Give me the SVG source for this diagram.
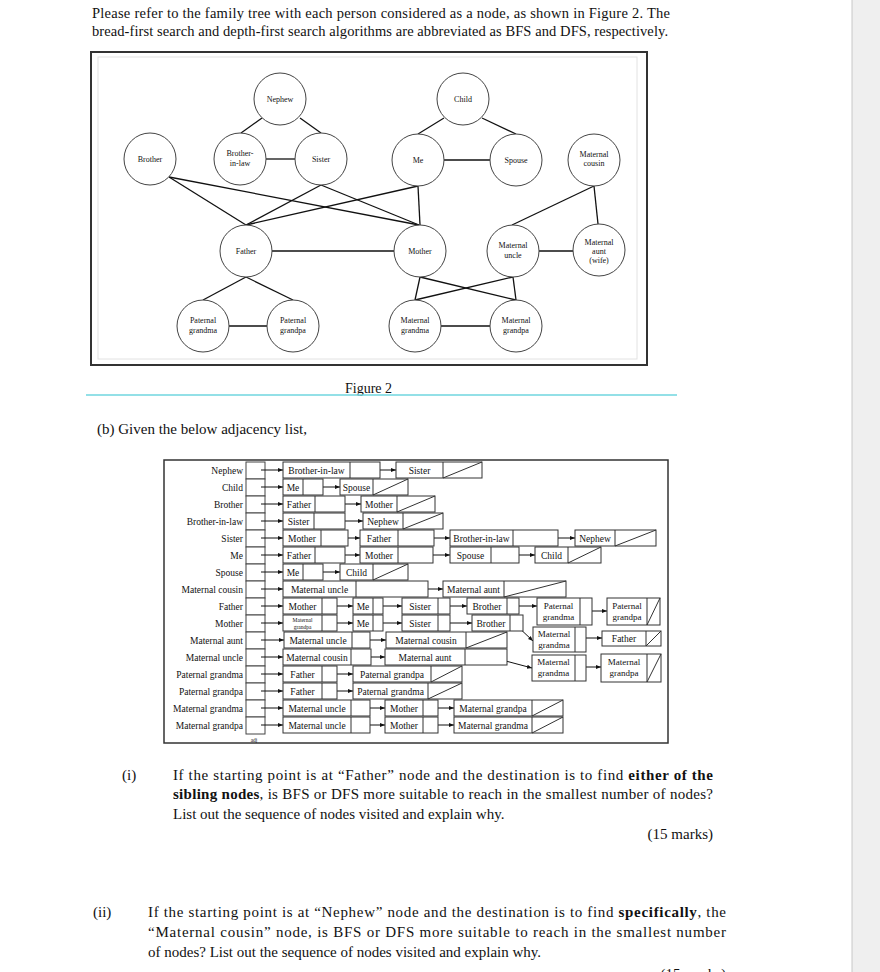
<svg xmlns="http://www.w3.org/2000/svg" width="880" height="972" viewBox="0 0 880 972">
<defs>
<marker id="ah" markerUnits="userSpaceOnUse" markerWidth="6" markerHeight="5" refX="5" refY="2" orient="auto"><path d="M0,0 L5,2 L0,4 z" fill="#111"/></marker>
<style>
text{font-family:"Liberation Serif","Times New Roman",serif;fill:#111}
.p{font-size:14.5px}
.q{font-size:15px}
.nd circle{fill:#fff;stroke:#444;stroke-width:1}
.nd text{font-size:8px;text-anchor:middle}
.ed line{stroke:#111;stroke-width:1.3}
.bx rect{fill:#fff;stroke:#333;stroke-width:1}
.bx line{stroke:#333;stroke-width:1}
.bt{font-size:9.5px;text-anchor:middle}
.bs{font-size:9px;text-anchor:middle}
.lb{font-size:9.5px;text-anchor:end}
.ar line{stroke:#111;stroke-width:1;marker-end:url(#ah)}
.cell{fill:#fff;stroke:#444;stroke-width:1}
</style>
</defs>
<rect width="880" height="972" fill="#fff"/>
<rect x="852" y="0" width="28" height="972" fill="#efefef"/>
<line x1="852" y1="0" x2="852" y2="972" stroke="#c8c8c8" stroke-width="1"/>

<text class="p" x="92" y="17.5" textLength="578" lengthAdjust="spacing">Please refer to the family tree with each person considered as a node, as shown in Figure 2. The</text>
<text class="p" x="92" y="35.5" textLength="576" lengthAdjust="spacing">bread-first search and depth-first search algorithms are abbreviated as BFS and DFS, respectively.</text>

<!-- Figure 2 frame -->
<rect x="91" y="52" width="556" height="313" fill="#fff" stroke="#333" stroke-width="2"/>
<rect x="98" y="57" width="539" height="302" fill="none" stroke="#e2e2e2" stroke-width="1"/>

<g id="edges" class="ed">
<line x1="262" y1="118" x2="241" y2="133"/>
<line x1="300" y1="118" x2="321" y2="133"/>
<line x1="266" y1="159" x2="295" y2="159"/>
<line x1="444" y1="118" x2="418" y2="134"/>
<line x1="482" y1="118" x2="516" y2="134"/>
<line x1="444" y1="160" x2="490" y2="160"/>
<line x1="169" y1="177" x2="246" y2="225"/>
<line x1="169" y1="177" x2="419" y2="225"/>
<line x1="321" y1="185" x2="246" y2="225"/>
<line x1="321" y1="185" x2="419" y2="225"/>
<line x1="418" y1="186" x2="246" y2="225"/>
<line x1="418" y1="186" x2="420" y2="225"/>
<line x1="594" y1="186" x2="512" y2="225"/>
<line x1="594" y1="186" x2="598" y2="224"/>
<line x1="272" y1="251" x2="394" y2="251"/>
<line x1="539" y1="251" x2="573" y2="251"/>
<line x1="246" y1="277" x2="203" y2="300"/>
<line x1="246" y1="277" x2="293" y2="300"/>
<line x1="229" y1="326" x2="267" y2="326"/>
<line x1="420" y1="277" x2="415" y2="300"/>
<line x1="420" y1="277" x2="516" y2="300"/>
<line x1="513" y1="277" x2="415" y2="300"/>
<line x1="513" y1="277" x2="516" y2="300"/>
<line x1="441" y1="326" x2="490" y2="326"/>
</g>

<g id="n-nephew" class="nd"><circle cx="280" cy="99" r="26"/><text x="280" y="102">Nephew</text></g>
<g id="n-child" class="nd"><circle cx="463" cy="99" r="26"/><text x="463" y="102">Child</text></g>
<g id="n-brother" class="nd"><circle cx="150" cy="159" r="26"/><text x="150" y="162">Brother</text></g>
<g id="n-bil" class="nd"><circle cx="240" cy="159" r="26"/><text x="240" y="156">Brother-</text><text x="240" y="166">in-law</text></g>
<g id="n-sister" class="nd"><circle cx="321" cy="159" r="26"/><text x="321" y="162">Sister</text></g>
<g id="n-me" class="nd"><circle cx="418" cy="160" r="26"/><text x="418" y="163">Me</text></g>
<g id="n-spouse" class="nd"><circle cx="516" cy="160" r="26"/><text x="516" y="163">Spouse</text></g>
<g id="n-matcousin" class="nd"><circle cx="594" cy="160" r="26"/><text x="594" y="157">Maternal</text><text x="594" y="166">cousin</text></g>
<g id="n-father" class="nd"><circle cx="246" cy="251" r="26"/><text x="246" y="254">Father</text></g>
<g id="n-mother" class="nd"><circle cx="420" cy="251" r="26"/><text x="420" y="254">Mother</text></g>
<g id="n-matuncle" class="nd"><circle cx="513" cy="251" r="26"/><text x="513" y="248">Maternal</text><text x="513" y="258">uncle</text></g>
<g id="n-mataunt" class="nd"><circle cx="599" cy="250" r="26"/><text x="599" y="245">Maternal</text><text x="599" y="254">aunt</text><text x="599" y="263">(wife)</text></g>
<g id="n-patgrandma" class="nd"><circle cx="203" cy="326" r="26"/><text x="203" y="323">Paternal</text><text x="203" y="333">grandma</text></g>
<g id="n-patgrandpa" class="nd"><circle cx="293" cy="326" r="26"/><text x="293" y="323">Paternal</text><text x="293" y="333">grandpa</text></g>
<g id="n-matgrandma" class="nd"><circle cx="415" cy="326" r="26"/><text x="415" y="323">Maternal</text><text x="415" y="333">grandma</text></g>
<g id="n-matgrandpa" class="nd"><circle cx="516" cy="326" r="26"/><text x="516" y="323">Maternal</text><text x="516" y="333">grandpa</text></g>

<text x="345" y="393" style="font-size:14px">Figure 2</text>
<line x1="86" y1="395" x2="677" y2="395" stroke="#6fd6df" stroke-width="1.5"/>

<text class="q" x="97" y="434">(b)  Given the below adjacency list,</text>

<!-- adjacency list -->
<rect x="164" y="460" width="504" height="283" fill="#fff" stroke="#333" stroke-width="1.5"/>
<g id="adj">
<rect class="cell" x="246" y="462" width="19" height="17"/>
<rect class="cell" x="246" y="479" width="19" height="17"/>
<rect class="cell" x="246" y="496" width="19" height="17"/>
<rect class="cell" x="246" y="513" width="19" height="17"/>
<rect class="cell" x="246" y="530" width="19" height="17"/>
<rect class="cell" x="246" y="547" width="19" height="17"/>
<rect class="cell" x="246" y="564" width="19" height="17"/>
<rect class="cell" x="246" y="581" width="19" height="17"/>
<rect class="cell" x="246" y="598" width="19" height="17"/>
<rect class="cell" x="246" y="615" width="19" height="17"/>
<rect class="cell" x="246" y="632" width="19" height="17"/>
<rect class="cell" x="246" y="649" width="19" height="17"/>
<rect class="cell" x="246" y="666" width="19" height="17"/>
<rect class="cell" x="246" y="683" width="19" height="17"/>
<rect class="cell" x="246" y="700" width="19" height="17"/>
<rect class="cell" x="246" y="717" width="19" height="17"/>
<text x="254" y="742" style="font-size:5.5px;text-anchor:middle">adj</text>
<text class="lb" x="243" y="474">Nephew</text>
<text class="lb" x="243" y="491">Child</text>
<text class="lb" x="243" y="508">Brother</text>
<text class="lb" x="243" y="525">Brother-in-law</text>
<text class="lb" x="243" y="542">Sister</text>
<text class="lb" x="243" y="559">Me</text>
<text class="lb" x="243" y="576">Spouse</text>
<text class="lb" x="243" y="593">Maternal cousin</text>
<text class="lb" x="243" y="610">Father</text>
<text class="lb" x="243" y="627">Mother</text>
<text class="lb" x="243" y="644">Maternal aunt</text>
<text class="lb" x="243" y="661">Maternal uncle</text>
<text class="lb" x="243" y="678">Paternal grandma</text>
<text class="lb" x="243" y="695">Paternal grandpa</text>
<text class="lb" x="243" y="712">Maternal grandma</text>
<text class="lb" x="243" y="729">Maternal grandpa</text>
</g>

<g id="list-arrows" class="ar">
<line x1="261" y1="470" x2="283" y2="470"/>
<line x1="261" y1="487" x2="283" y2="487"/>
<line x1="261" y1="504" x2="283" y2="504"/>
<line x1="261" y1="521" x2="283" y2="521"/>
<line x1="261" y1="538" x2="283" y2="538"/>
<line x1="261" y1="555" x2="283" y2="555"/>
<line x1="261" y1="572" x2="283" y2="572"/>
<line x1="261" y1="589" x2="283" y2="589"/>
<line x1="261" y1="606" x2="283" y2="606"/>
<line x1="261" y1="623" x2="283" y2="623"/>
<line x1="261" y1="640" x2="284" y2="640"/>
<line x1="261" y1="657" x2="283" y2="657"/>
<line x1="261" y1="674" x2="283" y2="674"/>
<line x1="261" y1="691" x2="283" y2="691"/>
<line x1="261" y1="708" x2="283" y2="708"/>
<line x1="261" y1="725" x2="283" y2="725"/>
<!-- row 0 -->
<line x1="373" y1="470" x2="396" y2="470"/>
<!-- row 1 -->
<line x1="316" y1="487" x2="340" y2="487"/>
<!-- row 2 -->
<line x1="338" y1="504" x2="361" y2="504"/>
<!-- row 3 -->
<line x1="338" y1="521" x2="363" y2="521"/>
<!-- row 4 -->
<line x1="341" y1="538" x2="360" y2="538"/>
<line x1="427" y1="538" x2="450" y2="538"/>
<line x1="551" y1="538" x2="575" y2="538"/>
<!-- row 5 -->
<line x1="338" y1="555" x2="360" y2="555"/>
<line x1="426" y1="555" x2="450" y2="555"/>
<line x1="512" y1="555" x2="535" y2="555"/>
<!-- row 6 -->
<line x1="316" y1="572" x2="340" y2="572"/>
<!-- row 7 -->
<line x1="420" y1="589" x2="443" y2="589"/>
<!-- row 8 -->
<line x1="330" y1="606" x2="353" y2="606"/>
<line x1="378" y1="606" x2="402" y2="606"/>
<line x1="444" y1="606" x2="467" y2="606"/>
<line x1="514" y1="606" x2="537" y2="606"/>
<line x1="587" y1="611" x2="607" y2="611"/>
<!-- row 9 -->
<line x1="330" y1="623" x2="353" y2="623"/>
<line x1="378" y1="623" x2="402" y2="623"/>
<line x1="444" y1="623" x2="472" y2="623"/>
<line x1="515" y1="624" x2="533" y2="641"/>
<line x1="580" y1="638" x2="602" y2="638"/>
<!-- row 10 -->
<line x1="362" y1="640" x2="386" y2="640"/>
<!-- row 11 -->
<line x1="363" y1="657" x2="385" y2="657"/>
<line x1="502" y1="660" x2="532" y2="668"/>
<line x1="580" y1="667" x2="601" y2="667"/>
<!-- row 12-15 -->
<line x1="330" y1="674" x2="353" y2="674"/>
<line x1="330" y1="691" x2="353" y2="691"/>
<line x1="363" y1="708" x2="385" y2="708"/>
<line x1="433" y1="708" x2="454" y2="708"/>
<line x1="363" y1="725" x2="385" y2="725"/>
<line x1="433" y1="725" x2="454" y2="725"/>
</g>

<g id="list-nodes" class="bx">
<!-- row 0 -->
<g id="r0"><rect x="283" y="462" width="97" height="16"/><line x1="350" y1="462" x2="350" y2="478"/><text class="bt" x="316.5" y="473.5">Brother-in-law</text>
<rect x="396" y="462" width="86" height="16"/><line x1="443" y1="462" x2="443" y2="478"/><line x1="443" y1="478" x2="482" y2="462"/><text class="bt" x="419.5" y="473.5">Sister</text></g>
<!-- row 1 -->
<g id="r1"><rect x="283" y="479" width="40" height="16"/><line x1="303" y1="479" x2="303" y2="495"/><text class="bt" x="293" y="490.5">Me</text>
<rect x="340" y="479" width="68" height="16"/><line x1="373" y1="479" x2="373" y2="495"/><line x1="373" y1="495" x2="408" y2="479"/><text class="bt" x="356.5" y="490.5">Spouse</text></g>
<!-- row 2 -->
<g id="r2"><rect x="283" y="496" width="62" height="16"/><line x1="315" y1="496" x2="315" y2="512"/><text class="bt" x="299" y="507.5">Father</text>
<rect x="361" y="496" width="74" height="16"/><line x1="397" y1="496" x2="397" y2="512"/><line x1="397" y1="512" x2="435" y2="496"/><text class="bt" x="379" y="507.5">Mother</text></g>
<!-- row 3 -->
<g id="r3"><rect x="283" y="513" width="62" height="16"/><line x1="314" y1="513" x2="314" y2="529"/><text class="bt" x="298.5" y="524.5">Sister</text>
<rect x="363" y="513" width="80" height="16"/><line x1="403" y1="513" x2="403" y2="529"/><line x1="403" y1="529" x2="443" y2="513"/><text class="bt" x="383" y="524.5">Nephew</text></g>
<!-- row 4 -->
<g id="r4"><rect x="283" y="530" width="65" height="16"/><line x1="321" y1="530" x2="321" y2="546"/><text class="bt" x="302" y="541.5">Mother</text>
<rect x="360" y="530" width="74" height="16"/><line x1="398" y1="530" x2="398" y2="546"/><text class="bt" x="379" y="541.5">Father</text>
<rect x="450" y="530" width="108" height="16"/><line x1="513" y1="530" x2="513" y2="546"/><text class="bt" x="481.5" y="541.5">Brother-in-law</text>
<rect x="575" y="530" width="81" height="16"/><line x1="615" y1="530" x2="615" y2="546"/><line x1="615" y1="546" x2="656" y2="530"/><text class="bt" x="595" y="541.5">Nephew</text></g>
<!-- row 5 -->
<g id="r5"><rect x="283" y="547" width="62" height="16"/><line x1="315" y1="547" x2="315" y2="563"/><text class="bt" x="299" y="558.5">Father</text>
<rect x="360" y="547" width="73" height="16"/><line x1="398" y1="547" x2="398" y2="563"/><text class="bt" x="379" y="558.5">Mother</text>
<rect x="450" y="547" width="69" height="16"/><line x1="491" y1="547" x2="491" y2="563"/><text class="bt" x="470.5" y="558.5">Spouse</text>
<rect x="535" y="547" width="66" height="16"/><line x1="568" y1="547" x2="568" y2="563"/><line x1="568" y1="563" x2="601" y2="547"/><text class="bt" x="551.5" y="558.5">Child</text></g>
<!-- row 6 -->
<g id="r6"><rect x="283" y="564" width="40" height="16"/><line x1="303" y1="564" x2="303" y2="580"/><text class="bt" x="293" y="575.5">Me</text>
<rect x="340" y="564" width="68" height="16"/><line x1="373" y1="564" x2="373" y2="580"/><line x1="373" y1="580" x2="408" y2="564"/><text class="bt" x="356.5" y="575.5">Child</text></g>
<!-- row 7 -->
<g id="r7"><rect x="283" y="581" width="145" height="16"/><line x1="356" y1="581" x2="356" y2="597"/><text class="bt" x="319.5" y="592.5">Maternal uncle</text>
<rect x="443" y="581" width="123" height="16"/><line x1="504" y1="581" x2="504" y2="597"/><line x1="504" y1="597" x2="566" y2="581"/><text class="bt" x="473.5" y="592.5">Maternal aunt</text></g>
<!-- row 8 -->
<g id="r8"><rect x="283" y="598" width="54" height="16"/><line x1="322" y1="598" x2="322" y2="614"/><text class="bt" x="302.5" y="609.5">Mother</text>
<rect x="353" y="598" width="30" height="16"/><line x1="373" y1="598" x2="373" y2="614"/><text class="bt" x="363" y="609.5">Me</text>
<rect x="402" y="598" width="48" height="16"/><line x1="438" y1="598" x2="438" y2="614"/><text class="bt" x="420" y="609.5">Sister</text>
<rect x="467" y="598" width="52" height="16"/><line x1="507" y1="598" x2="507" y2="614"/><text class="bt" x="487" y="609.5">Brother</text>
<rect x="537" y="598" width="55" height="27"/><line x1="580" y1="598" x2="580" y2="625"/><text class="bs" x="558.5" y="609">Paternal</text><text class="bs" x="558.5" y="620">grandma</text>
<rect x="607" y="598" width="53" height="27"/><line x1="647" y1="598" x2="647" y2="625"/><line x1="647" y1="625" x2="660" y2="598"/><text class="bs" x="627" y="609">Paternal</text><text class="bs" x="627" y="620">grandpa</text></g>
<!-- row 9 -->
<g id="r9"><rect x="283" y="615" width="54" height="16"/><line x1="322" y1="615" x2="322" y2="631"/><text x="302.5" y="622" style="font-size:5.5px;text-anchor:middle">Maternal</text><text x="302.5" y="629" style="font-size:5.5px;text-anchor:middle">grandpa</text>
<rect x="353" y="615" width="30" height="16"/><line x1="373" y1="615" x2="373" y2="631"/><text class="bt" x="363" y="626.5">Me</text>
<rect x="402" y="615" width="48" height="16"/><line x1="438" y1="615" x2="438" y2="631"/><text class="bt" x="420" y="626.5">Sister</text>
<rect x="472" y="615" width="51" height="16"/><line x1="510" y1="615" x2="510" y2="631"/><text class="bt" x="491" y="626.5">Brother</text>
<rect x="533" y="627" width="53" height="25"/><line x1="575" y1="627" x2="575" y2="652"/><text class="bs" x="554" y="637">Maternal</text><text class="bs" x="554" y="648">grandma</text>
<rect x="602" y="631" width="59" height="15"/><line x1="646" y1="631" x2="646" y2="646"/><line x1="646" y1="646" x2="661" y2="631"/><text class="bt" x="624" y="642">Father</text></g>
<!-- row 10 -->
<g id="r10"><rect x="284" y="632" width="86" height="16"/><line x1="352" y1="632" x2="352" y2="648"/><text class="bt" x="318" y="643.5">Maternal uncle</text>
<rect x="386" y="632" width="121" height="16"/><line x1="466" y1="632" x2="466" y2="648"/><line x1="466" y1="648" x2="507" y2="632"/><text class="bt" x="426" y="643.5">Maternal cousin</text></g>
<!-- row 11 -->
<g id="r11"><rect x="283" y="649" width="88" height="16"/><line x1="351" y1="649" x2="351" y2="665"/><text class="bt" x="317" y="660.5">Maternal cousin</text>
<rect x="385" y="649" width="122" height="16"/><line x1="465" y1="649" x2="465" y2="665"/><text class="bt" x="425" y="660.5">Maternal aunt</text>
<rect x="532" y="655" width="54" height="26"/><line x1="575" y1="655" x2="575" y2="681"/><text class="bs" x="553.5" y="665">Maternal</text><text class="bs" x="553.5" y="676">grandma</text>
<rect x="601" y="654" width="60" height="28"/><line x1="647" y1="654" x2="647" y2="682"/><line x1="647" y1="682" x2="661" y2="654"/><text class="bs" x="624" y="665">Maternal</text><text class="bs" x="624" y="676">grandpa</text></g>
<!-- row 12 -->
<g id="r12"><rect x="283" y="666" width="54" height="16"/><line x1="322" y1="666" x2="322" y2="682"/><text class="bt" x="302.5" y="677.5">Father</text>
<rect x="353" y="666" width="109" height="16"/><line x1="431" y1="666" x2="431" y2="682"/><line x1="431" y1="682" x2="462" y2="666"/><text class="bt" x="392" y="677.5">Paternal grandpa</text></g>
<!-- row 13 -->
<g id="r13"><rect x="283" y="683" width="54" height="16"/><line x1="322" y1="683" x2="322" y2="699"/><text class="bt" x="302.5" y="694.5">Father</text>
<rect x="353" y="683" width="109" height="16"/><line x1="428" y1="683" x2="428" y2="699"/><line x1="428" y1="699" x2="462" y2="683"/><text class="bt" x="390.5" y="694.5">Paternal grandma</text></g>
<!-- row 14 -->
<g id="r14"><rect x="283" y="700" width="87" height="16"/><line x1="351" y1="700" x2="351" y2="716"/><text class="bt" x="317" y="711.5">Maternal uncle</text>
<rect x="385" y="700" width="53" height="16"/><line x1="423" y1="700" x2="423" y2="716"/><text class="bt" x="404" y="711.5">Mother</text>
<rect x="454" y="700" width="109" height="16"/><line x1="532" y1="700" x2="532" y2="716"/><line x1="532" y1="716" x2="563" y2="700"/><text class="bt" x="493" y="711.5">Maternal grandpa</text></g>
<!-- row 15 -->
<g id="r15"><rect x="283" y="717" width="87" height="16"/><line x1="351" y1="717" x2="351" y2="733"/><text class="bt" x="317" y="728.5">Maternal uncle</text>
<rect x="385" y="717" width="53" height="16"/><line x1="423" y1="717" x2="423" y2="733"/><text class="bt" x="404" y="728.5">Mother</text>
<rect x="454" y="717" width="109" height="16"/><line x1="532" y1="717" x2="532" y2="733"/><line x1="532" y1="733" x2="563" y2="717"/><text class="bt" x="493" y="728.5">Maternal grandma</text></g>
</g>

<!-- questions -->
<text class="q" x="122" y="780">(i)</text>
<text class="q" x="173" y="780" textLength="540" lengthAdjust="spacing">If the starting point is at “Father” node and the destination is to find <tspan font-weight="bold">either of the</tspan></text>
<text class="q" x="173" y="799" textLength="540" lengthAdjust="spacing"><tspan font-weight="bold">sibling nodes</tspan>, is BFS or DFS more suitable to reach in the smallest number of nodes?</text>
<text class="q" x="173" y="819">List out the sequence of nodes visited and explain why.</text>
<text class="q" x="713" y="839" text-anchor="end">(15 marks)</text>

<text class="q" x="93" y="917">(ii)</text>
<text class="q" x="148" y="917" textLength="578" lengthAdjust="spacing">If the starting point is at “Nephew” node and the destination is to find <tspan font-weight="bold">specifically</tspan>, the</text>
<text class="q" x="148" y="937" textLength="578" lengthAdjust="spacing">“Maternal cousin” node, is BFS or DFS more suitable to reach in the smallest number</text>
<text class="q" x="148" y="957">of nodes? List out the sequence of nodes visited and explain why.</text>
<text class="q" x="726" y="979" text-anchor="end">(15 marks)</text>
</svg>
